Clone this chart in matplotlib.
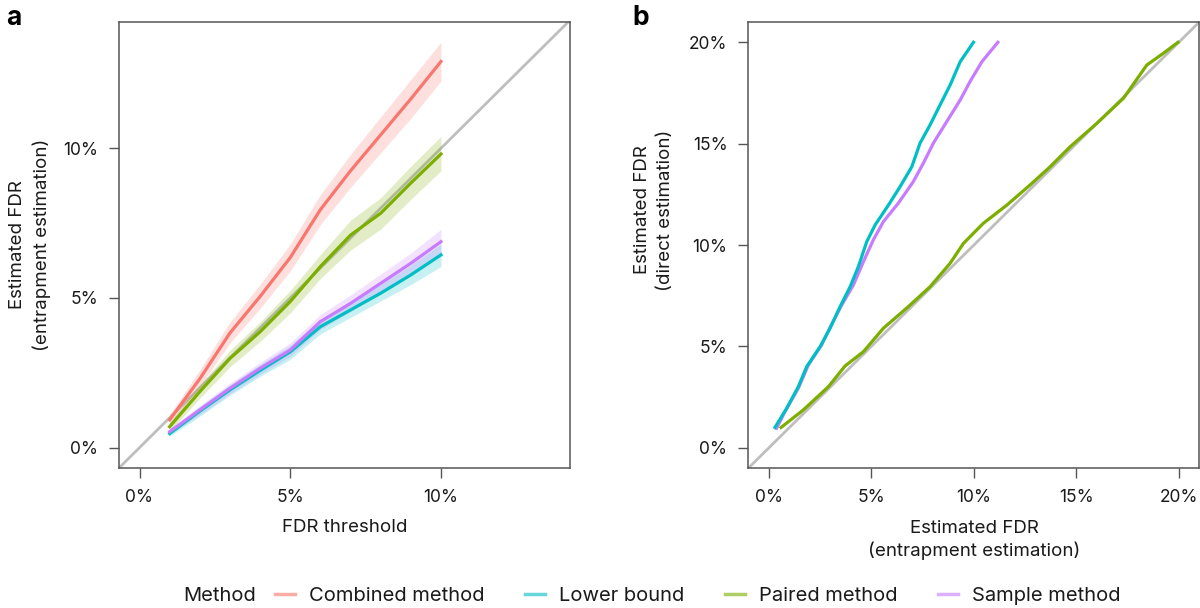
import numpy as np
import matplotlib.pyplot as plt
from matplotlib.lines import Line2D

plt.rcParams['font.family'] = ['Inter', 'DejaVu Sans']

# panel a: FDR threshold vs entrapment-estimated FDR (with bands)
thr = [1, 2, 3, 4, 5, 6, 7, 8, 9, 10]
comb_mid = [0.93, 2.3, 3.83, 5.05, 6.35, 7.95, 9.25, 10.45, 11.65, 12.9]
comb_lo = [0.75, 2.05, 3.5, 4.65, 5.9, 7.45, 8.7, 9.85, 11.0, 12.25]
comb_hi = [1.1, 2.6, 4.2, 5.45, 6.8, 8.45, 9.8, 11.05, 12.3, 13.55]
pair_mid = [0.70, 1.87, 2.98, 3.87, 4.88, 6.05, 7.1, 7.83, 8.84, 9.81]
pair_lo = [0.55, 1.65, 2.7, 3.55, 4.5, 5.65, 6.6, 7.3, 8.3, 9.25]
pair_hi = [0.85, 2.1, 3.25, 4.2, 5.25, 6.45, 7.6, 8.35, 9.4, 10.4]
samp_mid = [0.53, 1.26, 1.98, 2.65, 3.26, 4.21, 4.82, 5.49, 6.16, 6.88]
samp_lo = [0.45, 1.1, 1.8, 2.45, 3.05, 3.95, 4.55, 5.2, 5.85, 6.5]
samp_hi = [0.65, 1.4, 2.15, 2.85, 3.5, 4.45, 5.1, 5.8, 6.5, 7.3]
low_mid = [0.47, 1.22, 1.93, 2.58, 3.2, 4.04, 4.6, 5.16, 5.77, 6.44]
low_lo = [0.38, 1.05, 1.75, 2.38, 2.95, 3.8, 4.35, 4.9, 5.45, 6.05]
low_hi = [0.57, 1.38, 2.1, 2.78, 3.42, 4.28, 4.85, 5.45, 6.1, 6.8]

# panel b: entrapment estimate (x) vs direct estimate (y)
pair_bx = [0.59, 1.67, 2.90, 3.71, 4.61, 5.58, 6.80, 7.86, 8.84, 9.49, 10.46, 11.61,
           12.74, 13.72, 14.70, 16.0, 17.3, 18.44, 19.25, 19.96]
pair_by = [1.0, 1.86, 3.01, 4.03, 4.74, 5.89, 6.96, 7.94, 9.10, 10.08, 11.07, 11.97,
           12.96, 13.86, 14.85, 16.0, 17.24, 18.88, 19.46, 20.0]
low_bx = [0.29, 0.86, 1.43, 1.84, 2.49, 2.98, 3.47, 3.96, 4.36, 4.77, 5.18, 5.83,
          6.40, 6.97, 7.37, 7.86, 8.35, 8.84, 9.33, 9.98]
low_by = [1.0, 1.94, 3.01, 4.0, 4.98, 5.89, 6.96, 7.94, 8.93, 10.16, 10.99, 11.97,
          12.88, 13.86, 15.02, 15.92, 16.91, 17.89, 19.04, 20.0]
samp_bx = [0.37, 0.78, 1.43, 1.92, 2.57, 2.98, 3.55, 4.12, 4.61, 5.09, 5.58, 6.31,
           7.04, 7.53, 8.02, 8.67, 9.33, 9.81, 10.39, 11.17]
samp_by = [0.96, 1.78, 2.93, 4.08, 5.07, 5.94, 7.04, 8.03, 9.18, 10.25, 11.15, 12.06,
           13.12, 14.03, 15.02, 16.08, 17.15, 18.06, 19.04, 20.0]

methods = ["Combined method", "Lower bound", "Paired method", "Sample method"]
colors = {"Combined method": "#F8766D", "Lower bound": "#00BFC4",
          "Paired method": "#7CAE00", "Sample method": "#C77CFF"}

txt = "#1a1a1a"
spine_c = "#555555"
lw = 2.3

fig = plt.figure(figsize=(12, 6.08), dpi=100)
ax1 = fig.add_axes([119/1200, 1-468/608, 451/1200, 446/608])
ax2 = fig.add_axes([748.3/1200, 1-468/608, 451/1200, 446/608])

for ax in (ax1, ax2):
    ax.axline((0, 0), slope=1, color="#BEBEBE", lw=2, zorder=1)
    for s in ax.spines.values():
        s.set_color(spine_c)
        s.set_linewidth(1.1)
    ax.tick_params(length=7, width=1, color=spine_c, labelsize=12.5,
                   labelcolor=txt, pad=8)

# panel a
bands = [("Combined method", comb_mid, comb_lo, comb_hi),
         ("Paired method", pair_mid, pair_lo, pair_hi),
         ("Lower bound", low_mid, low_lo, low_hi),
         ("Sample method", samp_mid, samp_lo, samp_hi)]
for name, mid, lo, hi in bands:
    ax1.fill_between(thr, lo, hi, color=colors[name], alpha=0.22, lw=0, zorder=2)
for name, mid, lo, hi in bands:
    ax1.plot(thr, mid, color=colors[name], lw=lw, zorder=3)

ax1.set_xlim(-0.68, 14.28)
ax1.set_ylim(-0.68, 14.22)
ax1.set_xticks([0, 5, 10])
ax1.set_xticklabels(["0%", "5%", "10%"])
ax1.set_yticks([0, 5, 10])
ax1.set_yticklabels(["0%", "5%", "10%"])

# panel b
ax2.plot(pair_bx, pair_by, color=colors["Paired method"], lw=lw, zorder=3)
ax2.plot(samp_bx, samp_by, color=colors["Sample method"], lw=lw, zorder=3)
ax2.plot(low_bx, low_by, color=colors["Lower bound"], lw=lw, zorder=3)
ax2.set_xlim(-1.01, 21.0)
ax2.set_ylim(-1.0, 21.0)
ticks_b = [0, 5, 10, 15, 20]
ax2.set_xticks(ticks_b)
ax2.set_xticklabels([f"{t}%" for t in ticks_b])
ax2.set_yticks(ticks_b)
ax2.set_yticklabels([f"{t}%" for t in ticks_b])

# axis labels
fs = 13.5
fig.text(345/1200, 1-527/608, "FDR threshold", ha="center", va="center",
         fontsize=fs, color=txt)
fig.text(974/1200, 1-540/608, "Estimated FDR\n(entrapment estimation)",
         ha="center", va="center", fontsize=fs, color=txt, linespacing=1.3)
fig.text(30/1200, 1-245/608, "Estimated FDR\n(entrapment estimation)",
         ha="center", va="center", rotation=90, fontsize=fs, color=txt,
         linespacing=1.4)
fig.text(654/1200, 1-210/608, "Estimated FDR\n(direct estimation)",
         ha="center", va="center", rotation=90, fontsize=fs, color=txt,
         linespacing=1.4)

# panel tags
fig.text(6/1200, 1-18/608, "a", fontsize=19, fontweight="bold", ha="left",
         va="center", color="black")
fig.text(632/1200, 1-18/608, "b", fontsize=19, fontweight="bold", ha="left",
         va="center", color="black")

# legend
fig.text(183/1200, 1-596/608, "Method", ha="left", va="center", fontsize=14.5,
         color=txt)
handles = [Line2D([], [], color=colors[m], lw=2.5, alpha=0.6) for m in methods]
fig.legend(handles, methods, loc="center left", bbox_to_anchor=(265/1200, 1-596/608),
           ncol=4, frameon=False, fontsize=14.5, handlelength=1.0,
           handletextpad=0.7, columnspacing=2.0, borderpad=0, labelcolor=txt)

fig.savefig("out.png", dpi=100)
